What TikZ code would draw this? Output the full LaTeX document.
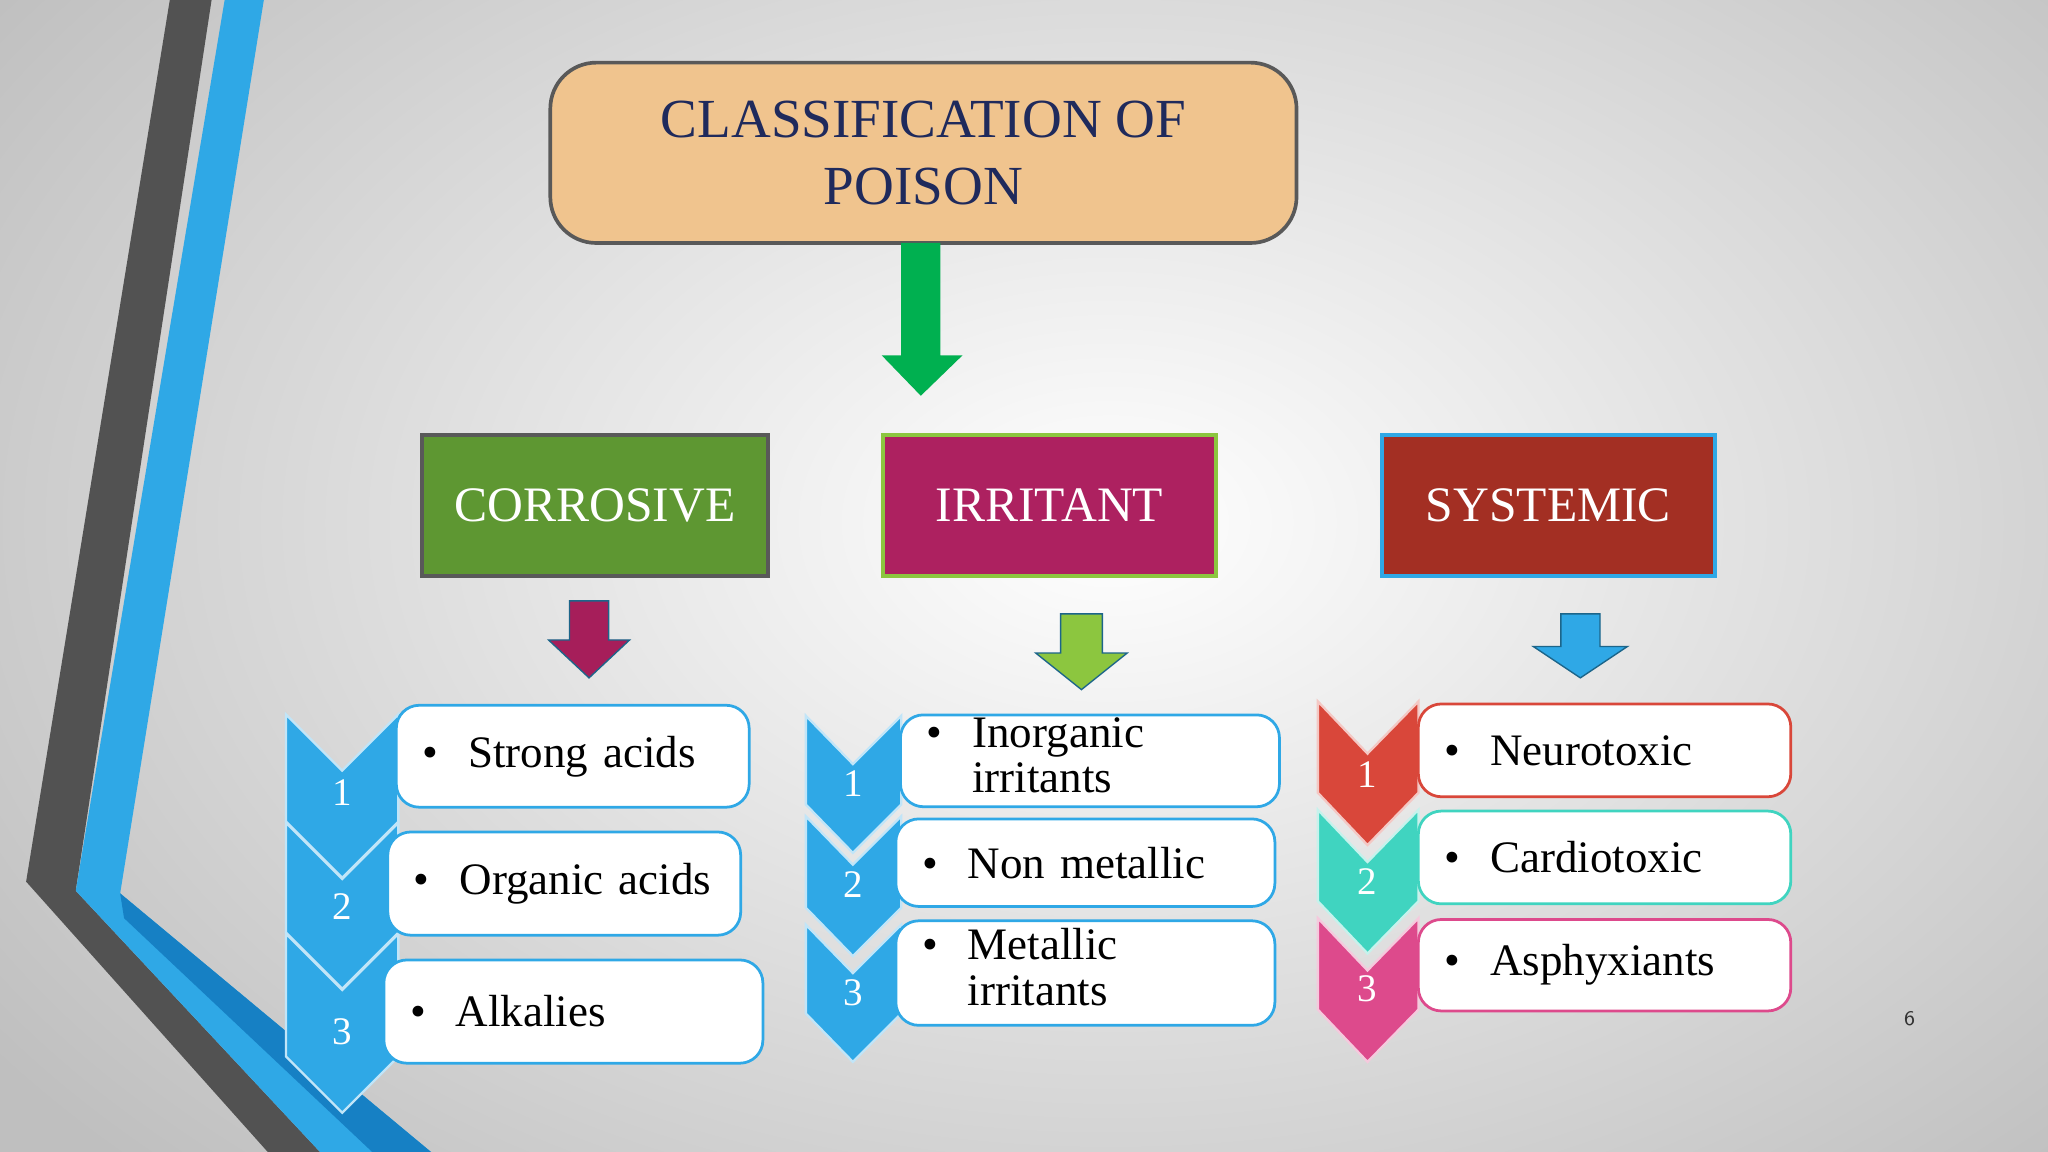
\documentclass[tikz,border=0pt]{standalone}
\usepackage{fontspec}
\setmainfont{Liberation Serif}
\begin{document}
\begin{tikzpicture}[x=0.01cm,y=-0.01cm,
  hdr/.style={draw=gray!70!black,line width=0.8pt,text=white,font=\fontsize{10.8}{13}\selectfont,inner sep=0pt,minimum height=1.08cm},
  lbox/.style={rounded corners=5pt,fill=white,line width=0.6pt,font=\fontsize{9.8}{10}\selectfont,align=left,inner xsep=0.2cm,inner ysep=0pt},
  num/.style={text=white,font=\fontsize{8.5}{10}\selectfont}]
\definecolor{navy}{HTML}{1F2A5C}
\definecolor{tan}{HTML}{F0C48E}
\definecolor{cgreen}{HTML}{5E9732}
\definecolor{imag}{HTML}{AD2160}
\definecolor{sred}{HTML}{A32F23}
\definecolor{cblue}{HTML}{2FA8E6}
\definecolor{dblue}{HTML}{1680C4}
\definecolor{lgreen}{HTML}{8CC63F}
\definecolor{maroon}{HTML}{A61E5A}
\definecolor{gr}{HTML}{00B050}
\definecolor{cred}{HTML}{D9473A}
\definecolor{cteal}{HTML}{40D4C0}
\definecolor{cpink}{HTML}{DD4A8C}
\useasboundingbox (0,0) rectangle (1568,882);
\shade[inner color=white,outer color=gray!50] (-200,-300) rectangle (1900,1100);
% left decoration
\fill[gray!30!black!80] (130,0) -- (162,0) -- (58,682) -- (245,882) -- (205,882) -- (20,675) -- cycle;
\fill[cblue] (172,0) -- (202,0) -- (92,684) -- (330,882) -- (245,882) -- (58,682) -- cycle;
\fill[dblue] (92,684) -- (330,882) -- (285,882) -- (95,703) -- cycle;
% title
\node[draw=gray!70!black,line width=0.8pt,fill=tan,rounded corners=10pt,minimum width=5.71cm,minimum height=1.38cm,align=center,text=navy,font=\fontsize{12}{14.5}\selectfont] (title) at (707,117) {CLASSIFICATION OF\\POISON};
\fill[gr] (690,186) -- (720,186) -- (720,272) -- (737,272) -- (705,303) -- (675,272) -- (690,272) -- cycle;
% headers
\node[hdr,fill=cgreen,minimum width=2.65cm] (cor) at (455.5,387) {CORROSIVE};
\node[hdr,fill=imag,draw=lgreen,minimum width=2.55cm] (irr) at (803.5,387) {IRRITANT};
\node[hdr,fill=sred,draw=cblue,minimum width=2.55cm] (sys) at (1185.5,387) {SYSTEMIC};
% small arrows
\fill[maroon,draw=cblue!60!black,line width=0.3pt] (436,460) -- (466,460) -- (466,490) -- (482,490) -- (451,519) -- (420,490) -- (436,490) -- cycle;
\fill[lgreen,draw=cblue!60!black,line width=0.3pt] (812,470) -- (844,470) -- (844,500) -- (863,500) -- (828,528) -- (793,500) -- (812,500) -- cycle;
\fill[cblue,draw=cblue!60!black,line width=0.3pt] (1195,470) -- (1225,470) -- (1225,495) -- (1246,495) -- (1210,519) -- (1174,495) -- (1195,495) -- cycle;
% chevrons: L C R T d h color
\newcommand\mychev[7]{\fill[#7,draw=white!70!#7,line width=0.5pt] (#1,#4) -- (#2,#4+#5) -- (#3,#4) -- (#3,#4+#6) -- (#2,#4+#6+#5) -- (#1,#4+#6) -- cycle;}
\mychev{219}{262}{305}{715}{43}{94}{cblue}
\mychev{219}{262}{305}{630}{43}{84}{cblue}
\mychev{219}{262}{305}{547}{43}{82}{cblue}
\mychev{617}{653}{690}{708}{37}{68}{cblue}
\mychev{617}{653}{690}{625}{37}{70}{cblue}
\mychev{617}{653}{690}{548}{37}{68}{cblue}
\mychev{1009}{1047}{1086}{703}{40}{70}{cpink}
\mychev{1009}{1047}{1086}{620}{40}{70}{cteal}
\mychev{1009}{1047}{1086}{537}{40}{70}{cred}
\node[num] (c1) at (262,607) {1};
\node[num] (c2) at (262,694) {2};
\node[num] (c3) at (262,790) {3};
\node[num] (i1) at (653,600) {1};
\node[num] (i2) at (653,677) {2};
\node[num] (i3) at (653,760) {3};
\node[num] (s1) at (1047,593) {1};
\node[num] (s2) at (1047,675) {2};
\node[num] (s3) at (1047,757) {3};
% list boxes
\node[lbox,draw=cblue,minimum width=2.67cm,minimum height=0.78cm,text width=2.3cm] (cb1) at (438.5,579) {\textbullet~ Strong acids};
\node[lbox,draw=cblue,minimum width=2.66cm,minimum height=0.79cm,text width=2.3cm] (cb2) at (432,676.5) {\textbullet~ Organic acids};
\node[lbox,draw=cblue,minimum width=2.88cm,minimum height=0.79cm,text width=2.5cm] (cb3) at (439,774.5) {\textbullet~ Alkalies};
\node[lbox,draw=cblue,minimum width=2.89cm,minimum height=0.67cm,text width=2.5cm] (ib1) at (834.5,582.5) {\begin{tabular}{@{}l@{~ }l@{}}\textbullet & Inorganic\\[0pt] & irritants\end{tabular}};
\node[lbox,draw=cblue,minimum width=2.88cm,minimum height=0.67cm,text width=2.5cm] (ib2) at (831,660.5) {\textbullet~ Non metallic};
\node[lbox,draw=cblue,minimum width=2.88cm,minimum height=0.80cm,text width=2.5cm] (ib3) at (831,745) {\begin{tabular}{@{}l@{~ }l@{}}\textbullet & Metallic\\[0pt] & irritants\end{tabular}};
\node[lbox,draw=cred,minimum width=2.85cm,minimum height=0.71cm,text width=2.45cm] (sb1) at (1228.5,574.5) {\textbullet~ Neurotoxic};
\node[lbox,draw=cteal,minimum width=2.85cm,minimum height=0.71cm,text width=2.45cm] (sb2) at (1228.5,656.5) {\textbullet~ Cardiotoxic};
\node[lbox,draw=cpink,minimum width=2.85cm,minimum height=0.70cm,text width=2.45cm] (sb3) at (1228.5,739) {\textbullet~ Asphyxiants};
\node[font=\sffamily\fontsize{4.5}{5}\selectfont,text=black!80] (pg) at (1462,780) {6};
\end{tikzpicture}
\end{document}
